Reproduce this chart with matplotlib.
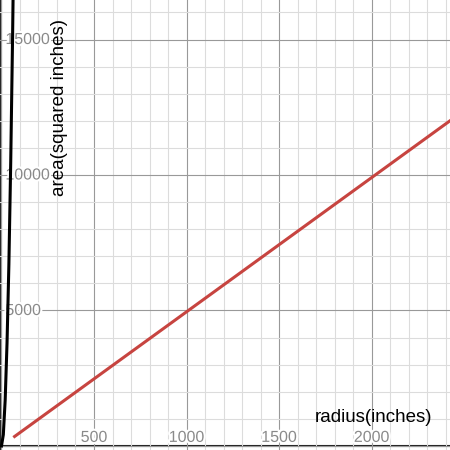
import matplotlib
matplotlib.use("Agg")
import matplotlib.pyplot as plt
import matplotlib.patheffects as pe
from matplotlib.ticker import MultipleLocator
import numpy as np

# black curve: area of the circle
circle_r = [0, 10, 20, 30, 40, 50, 60, 66]
circle_area = [0, 420, 1700, 3800, 6700, 10500, 15100, 18300]

# red line
line_r = [64, 2450]
line_area = [317, 12130]

x_ticks = [500, 1000, 1500, 2000]
y_ticks = [5000, 10000, 15000]

plt.rcParams['font.family'] = ['Liberation Sans', 'DejaVu Sans']

fig = plt.figure(figsize=(4.5, 4.5), dpi=100)
ax = fig.add_axes([0, 0, 1, 1])
ax.set_xlim(-8, 2424)
ax.set_ylim(-148, 16458)

ax.xaxis.set_major_locator(MultipleLocator(500))
ax.xaxis.set_minor_locator(MultipleLocator(100))
ax.yaxis.set_major_locator(MultipleLocator(5000))
ax.yaxis.set_minor_locator(MultipleLocator(1000))
ax.grid(which='major', color='#999999', lw=0.8, zorder=0)
ax.grid(which='minor', color='#dcdcdc', lw=0.8, zorder=0)
ax.tick_params(which='both', length=0, labelbottom=False, labelleft=False)
for s in ax.spines.values():
    s.set_visible(False)

ax.axhline(0, color='#222222', lw=1.5, zorder=1)
ax.axvline(0, color='#222222', lw=1.5, zorder=1)

halo = [pe.withStroke(linewidth=3, foreground='white')]
for t in x_ticks:
    ax.text(t, 0.028, str(t), transform=ax.get_xaxis_transform(), ha='center', va='center',
            fontsize=11.5, color='#8a8a8a', path_effects=halo, zorder=3)
for t in y_ticks:
    ax.text(0.012, t, str(t), transform=ax.get_yaxis_transform(), ha='left', va='center',
            fontsize=11.5, color='#8a8a8a', path_effects=halo, zorder=3)

ax.plot(line_r, line_area, color='#c74440', lw=2.2, zorder=4, solid_capstyle='butt')
ax.plot(circle_r, circle_area, color='#000000', lw=2.2, zorder=4)

ax.text(0.829, 0.072, 'radius(inches)', transform=ax.transAxes, ha='center', va='center',
        fontsize=13.5, color='black', zorder=5)
ax.text(0.132, 0.76, 'area(squared inches)', transform=ax.transAxes, ha='center', va='center',
        rotation=90, fontsize=13.5, color='black', zorder=5)

fig.savefig('out.png', dpi=100)
